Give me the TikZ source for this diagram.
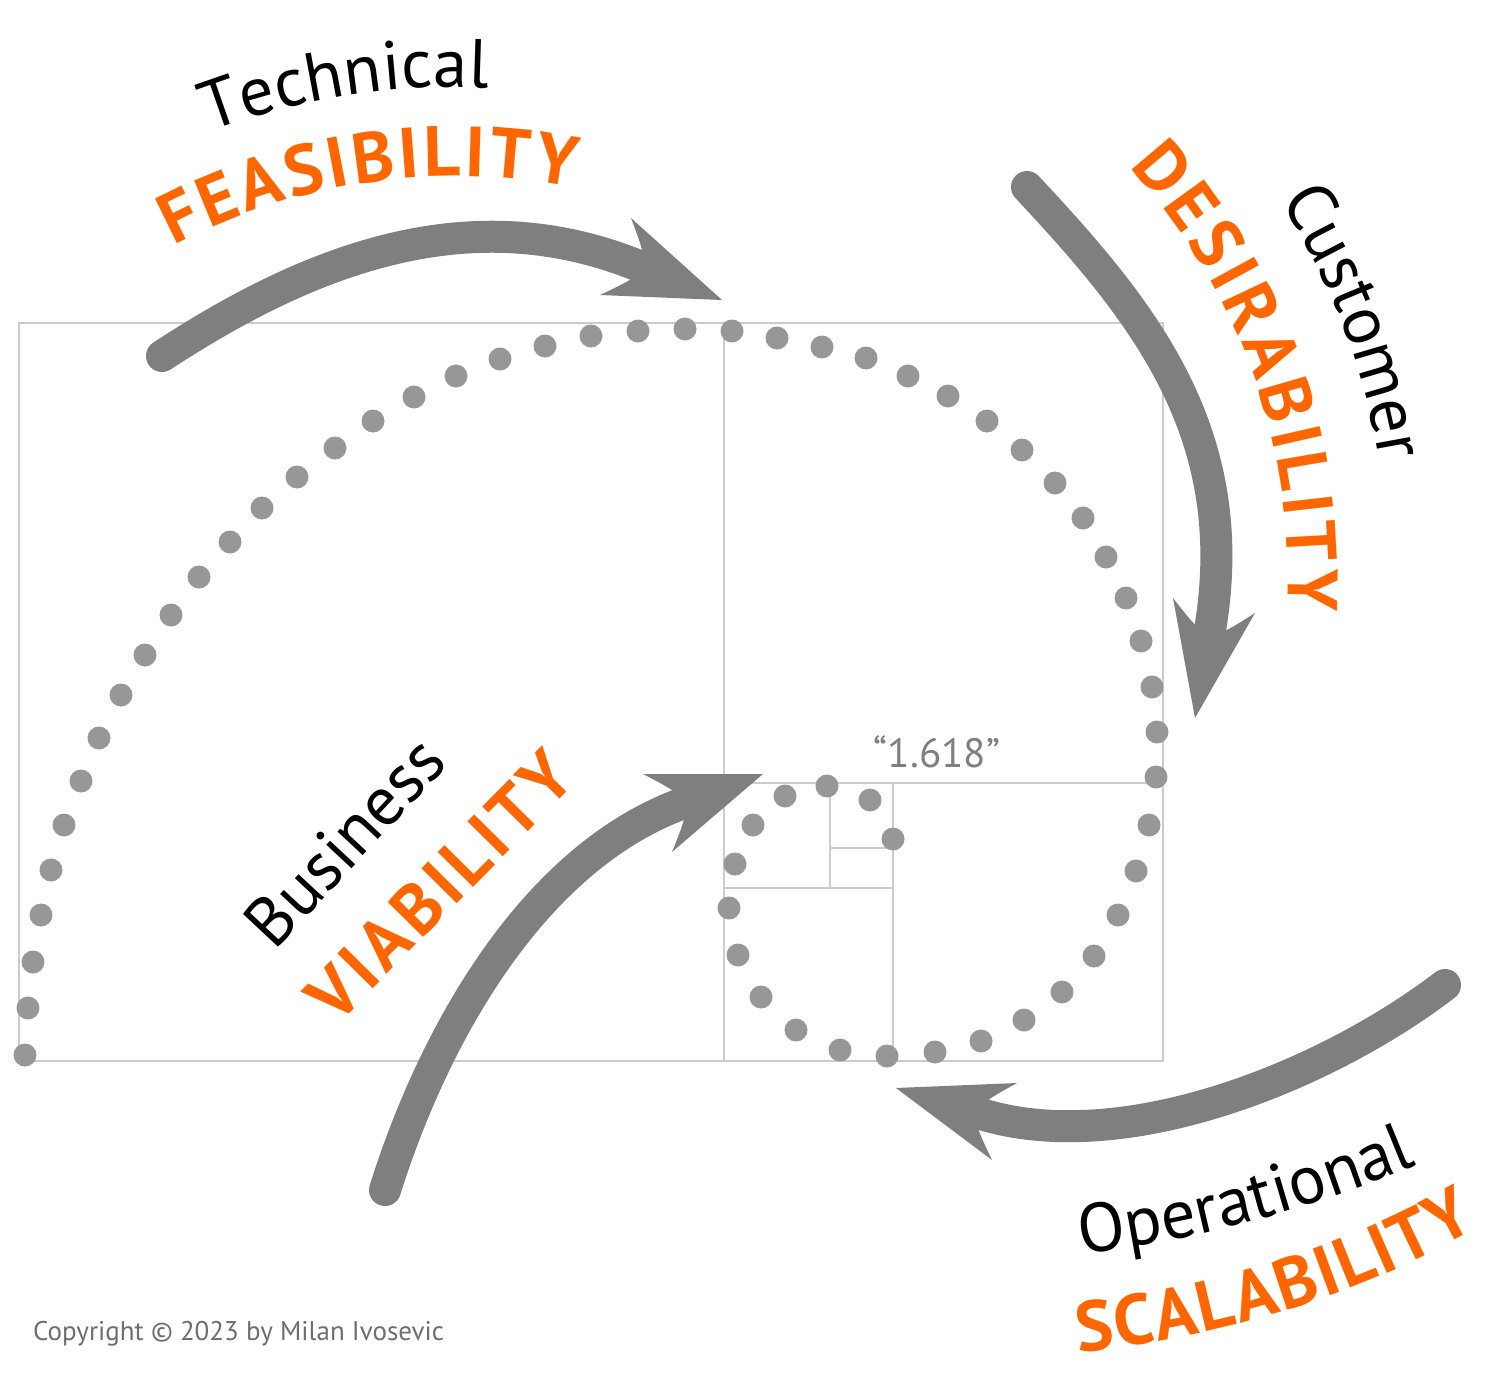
\documentclass[tikz,border=0pt]{standalone}
\usepackage{fontspec}
\setmainfont{PT Sans}
\usetikzlibrary{decorations.text,calc}
\definecolor{orng}{HTML}{FF6600}
\definecolor{arrowc}{HTML}{7F7F7F}
\definecolor{dotc}{HTML}{979797}
\definecolor{linec}{HTML}{CCCCCC}
\definecolor{copyc}{HTML}{6E6E6E}
\newcommand\orfnt{\fontsize{71}{71}\selectfont\bfseries\color{orng}}
\newcommand\bkfnt{\fontsize{69}{69}\selectfont\color{black}}
\tikzset{
  frame/.style={draw=linec,line width=2.7pt},
  spiraldot/.style={fill=dotc},
  shaft/.style={draw=arrowc,line width=32pt,line cap=round},
  headfill/.style={fill=arrowc},
  orangetext/.style={decorate,decoration={text along path,text align=fit to path,text={|\orfnt|#1}}},
  blacktext/.style={decorate,decoration={text along path,text align=center,text={|\bkfnt|#1}}}
}
\begin{document}
\begin{tikzpicture}[x=1pt,y=-1pt]
\useasboundingbox (0,0) rectangle (1500,1378);
% golden rectangle frames
\draw[frame] (19,323) rectangle (1163,1061);
\draw[frame] (724,323) -- (724,1061);
\draw[frame] (724,783) -- (1163,783);
\draw[frame] (893,783) -- (893,1061);
\draw[frame] (724,888) -- (893,888);
\draw[frame] (830,783) -- (830,888);
\draw[frame] (830,848) -- (893,848);
% dotted spiral
\foreach \p in {(25,1055),(28,1008),(33,962),(41,915),(51,870),(64,825),(81,781),(99,738),(121,695),(145,655),(171,615),(199,577),(230,542),(262,508),(297,477),(335,448),(373,421),(414,397),(456,376),(500,359),(545,346),(591,336),(638,331),(685,329),(732,331),
(777,338),(822,347),(866,358),(908,376),(948,396),(987,421),(1022,450),(1055,483),(1083,518),(1106,557),(1126,598),(1141,641),(1152,687),(1157,732),(1156,777),(1149,825),(1136,871),(1118,915),(1094,956),(1062,992),(1024,1020),(981,1041),(935,1052),(887,1056),(840,1050),(796,1030),(761,997),(738,955),(729,908),(735,864),(753,825),(785,796),(827,786),(870,800),(893,839)}
  \fill[spiraldot] \p circle[radius=11.5];
% arrows
\draw[shaft] (162,356) .. controls (313,257) and (472,198) .. (639,266);
\fill[headfill] (722,300) -- (631,218) .. controls (651,271) .. (600,295) -- cycle;
\draw[shaft] (1027,187) .. controls (1143,311) and (1243,433) .. (1210,630);
\fill[headfill] (1195,718) -- (1255,613) .. controls (1208,643) .. (1173,598) -- cycle;
\draw[shaft] (1445,985) .. controls (1326,1076) and (1124,1158) .. (981,1114);
\fill[headfill] (896,1088) -- (1017,1083) .. controls (968,1110) .. (992,1160) -- cycle;
\draw[shaft] (385,1190) .. controls (433,1037) and (531,860) .. (681,804);
\fill[headfill] (763,774) -- (643,774) .. controls (693,800) .. (672,852) -- cycle;
% texts
\path[blacktext=Technical] ($(456,782)+(-113.05:695)$) arc[start angle=-113.05,end angle=-85.05,radius=695];
\path[orangetext=FEASIBILITY] ($(456,782)+(-117.8:606)$) arc[start angle=-117.8,end angle=-78.8,radius=606];
\path[blacktext=Customer] ($(680,577)+(-36.75:709)$) arc[start angle=-36.75,end angle=-4.75,radius=709];
\path[orangetext=DESIRABILITY] ($(680,577)+(-42.4:608)$) arc[start angle=-42.4,end angle=3.1,radius=608];
\path[blacktext=Business] (245.7,982.2) -- (478.3,733.3);
\path[orangetext=VIABILITY] (336,1026.4) -- (578.4,781);
\path[blacktext=Operational] ($(917,-31.5)+(86.8:1296.7)$) arc[start angle=86.8,end angle=63.2,radius=1296.7];
\path[orangetext=SCALABILITY] ($(986.2,348.7)+(84.77:1007.5)$) arc[start angle=84.77,end angle=60.79,radius=1007.5];
\node[font=\fontsize{41}{41}\selectfont,text=arrowc,inner sep=0pt] (ratio) at (937,752) {“1.618”};
\node[anchor=base west,font=\fontsize{27}{27}\selectfont,text=copyc,inner sep=0pt] (copyright) at (33,1340) {Copyright © 2023 by Milan Ivosevic};
\end{tikzpicture}
\end{document}
